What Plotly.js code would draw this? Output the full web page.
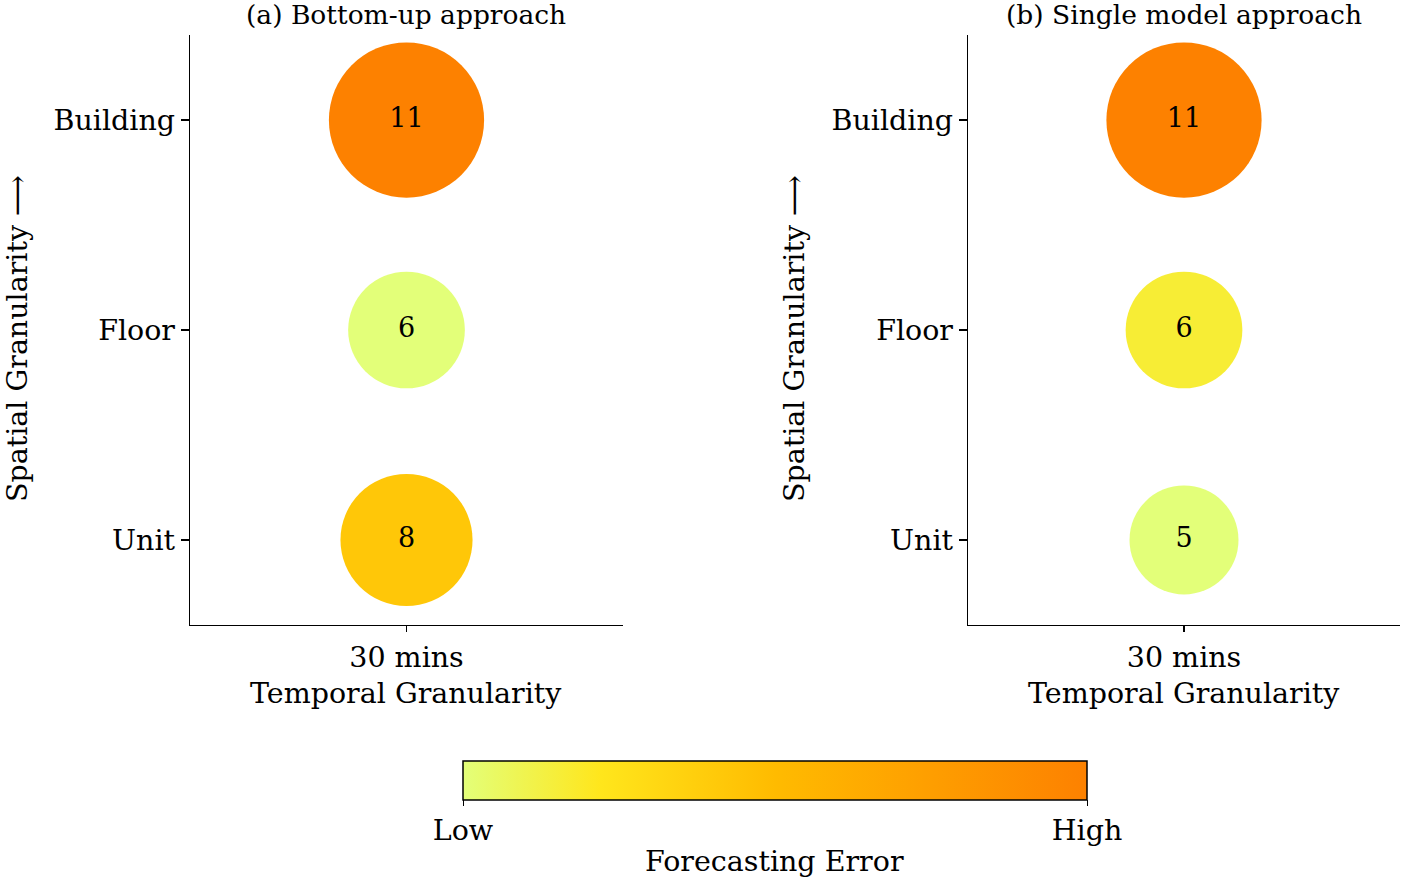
<!DOCTYPE html>
<html>
<head>
<meta charset="utf-8">
<script src="https://cdn.plot.ly/plotly-3.0.1.min.js"></script>
<style>html,body{margin:0;padding:0;background:#fff}#chart{width:1402px;height:881px}</style>
</head>
<body>
<div id="chart"></div>
<script>
// ---- data ----
const spatialLevels = ['Unit', 'Floor', 'Building'];
const temporalLevels = ['30 mins'];
const panelTitles = ['(a) Bottom-up approach', '(b) Single model approach'];

// panel (a): bubble labels and relative forecasting error (0 = low, 1 = high)
const spatialA = ['Building', 'Floor', 'Unit'];
const temporalA = ['30 mins', '30 mins', '30 mins'];
const labelsA = [11, 6, 8];
const errorA = [1.0, 0.0, 0.42];

// panel (b)
const spatialB = ['Building', 'Floor', 'Unit'];
const temporalB = ['30 mins', '30 mins', '30 mins'];
const labelsB = [11, 6, 5];
const errorB = [1.0, 0.16, 0.0];

const colorbarTicks = [0, 1];
const colorbarTickText = ['Low', 'High'];
const colorbarTitle = 'Forecasting Error';
const xTitle = 'Temporal Granularity';
const yTitle = 'Spatial Granularity \u27F6';

// ---- styling ----
const FONT = 'DejaVu Serif';
const TICK = 28.5;
const colorscale = [
  [0.0, '#e3ff79'],
  [0.22, '#ffe61c'],
  [0.5, '#ffbb00'],
  [1.0, '#fd8100']
];
const bubbleDiameter = v => 70.5 + 7.7 * v;
const W = 1402, H = 881;
const px = v => v / W;
const py = v => (H - v) / H;

function bubbleTrace(x, y, labels, err, xa, ya, showScale) {
  return {
    type: 'scatter', mode: 'markers+text',
    x: x, y: y, xaxis: xa, yaxis: ya,
    text: labels.map(String),
    textposition: 'middle center',
    textfont: {family: FONT, size: 27, color: '#000'},
    hoverinfo: 'skip',
    marker: {
      size: labels.map(bubbleDiameter), sizemode: 'diameter',
      color: err, colorscale: colorscale, cmin: 0, cmax: 1,
      opacity: 1, line: {width: 0},
      showscale: showScale,
      colorbar: showScale ? {
        orientation: 'h', x: px(775), xanchor: 'center',
        y: py(761), yanchor: 'top', yref: 'paper',
        len: 624 / W, lenmode: 'fraction', thickness: 39, thicknessmode: 'pixels',
        xpad: 0, ypad: 0,
        outlinecolor: '#000', outlinewidth: 1.5,
        tickvals: colorbarTicks, ticktext: colorbarTickText,
        ticks: 'outside', ticklen: 6, tickcolor: '#000',
        tickfont: {family: FONT, size: TICK, color: '#000'},
        title: {text: ''}
      } : undefined
    },
    showlegend: false
  };
}

const data = [
  bubbleTrace(temporalA, spatialA, labelsA, errorA, 'x', 'y', true),
  bubbleTrace(temporalB, spatialB, labelsB, errorB, 'x2', 'y2', false)
];

const yDom = [py(625), py(35)];
function xAxis(dom, anchor) {
  return {
    domain: dom, anchor: anchor, type: 'category', categoryarray: temporalLevels, range: [-0.5, 0.5],
    showline: true, linecolor: '#000', linewidth: 1.3, mirror: false,
    ticks: 'outside', ticklen: 6, tickwidth: 1.3, tickcolor: '#000',
    showgrid: false, zeroline: false, automargin: false, fixedrange: true,
    tickfont: {family: FONT, size: TICK, color: '#000'}
  };
}
function yAxis(anchor) {
  return {
    domain: yDom, anchor: anchor, type: 'category', categoryorder: 'array', categoryarray: spatialLevels,
    range: [-0.405, 2.405],
    showline: true, linecolor: '#000', linewidth: 1.3, mirror: false,
    ticks: 'outside', ticklen: 8, tickwidth: 1.3, tickcolor: '#000',
    showgrid: false, zeroline: false, automargin: false, fixedrange: true,
    tickfont: {family: FONT, size: TICK, color: '#000'}
  };
}

const txt = (text, x, y, opts) => Object.assign({
  text: text, xref: 'paper', yref: 'paper', x: x, y: y,
  xanchor: 'center', yanchor: 'middle', showarrow: false,
  font: {family: FONT, size: TICK, color: '#000'}
}, opts || {});

const annotations = [
  txt(panelTitles[0], px(406), 1, {yanchor: 'top', yshift: 3, font: {family: FONT, size: 26.5, color: '#000'}}),
  txt(panelTitles[1], px(1184), 1, {yanchor: 'top', yshift: 3, font: {family: FONT, size: 26.5, color: '#000'}}),
  txt(xTitle, px(406), py(693)),
  txt(xTitle, px(1184), py(693)),
  txt(yTitle, px(18), py(339), {textangle: -90}),
  txt(yTitle, px(795), py(339), {textangle: -90}),
  txt(colorbarTitle, px(775), py(861))
];

const layout = {
  width: W, height: H,
  margin: {l: 0, r: 0, t: 0, b: 0, pad: 0},
  paper_bgcolor: '#fff', plot_bgcolor: '#fff',
  font: {family: FONT, color: '#000'},
  xaxis: xAxis([px(190), px(623)], 'y'),
  yaxis: yAxis('x'),
  xaxis2: xAxis([px(968), px(1400)], 'y2'),
  yaxis2: yAxis('x2'),
  annotations: annotations
};

Plotly.newPlot('chart', data, layout, {displayModeBar: false, staticPlot: true});
</script>
</body>
</html>
